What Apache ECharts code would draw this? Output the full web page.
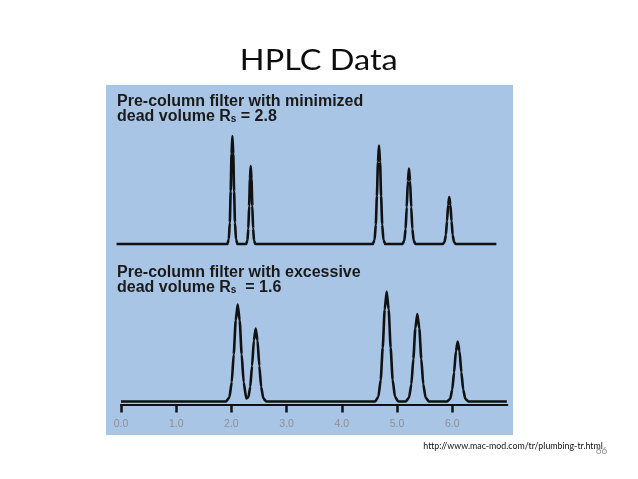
<!DOCTYPE html>
<html>
<head>
<meta charset="utf-8">
<script src="https://cdn.jsdelivr.net/npm/echarts@6/dist/echarts.min.js"></script>
<style>
html,body{margin:0;padding:0;background:#fff;}
#c{width:638px;height:479px;}
</style>
</head>
<body>
<div id="c"></div>
<script>
// Upper chromatogram: minimized dead volume (retention time, signal)
const upperTime = [-0.08,
  1.927, 1.953, 1.971, 1.987, 2.002, 2.018, 2.034, 2.049, 2.065, 2.083, 2.109,
  2.266, 2.290, 2.307, 2.321, 2.336, 2.350, 2.364, 2.379, 2.393, 2.410, 2.434,
  4.562, 4.594, 4.616, 4.636, 4.655, 4.674, 4.693, 4.712, 4.732, 4.754, 4.786,
  5.098, 5.132, 5.156, 5.176, 5.197, 5.217, 5.237, 5.258, 5.278, 5.302, 5.336,
  5.828, 5.862, 5.886, 5.906, 5.927, 5.947, 5.967, 5.988, 6.008, 6.032, 6.066,
  6.80];
const upperSignal = [0,
  0, 0.048, 0.214, 0.526, 0.902, 1.08, 0.902, 0.526, 0.214, 0.048, 0,
  0, 0.034, 0.154, 0.380, 0.651, 0.78, 0.651, 0.380, 0.154, 0.034, 0,
  0, 0.043, 0.195, 0.480, 0.822, 0.985, 0.822, 0.480, 0.195, 0.043, 0,
  0, 0.033, 0.149, 0.368, 0.630, 0.755, 0.630, 0.368, 0.149, 0.033, 0,
  0, 0.021, 0.093, 0.229, 0.392, 0.47, 0.392, 0.229, 0.093, 0.021, 0,
  0];

// Lower chromatogram: excessive dead volume
const lowerTime = [0,
  1.904, 1.964, 2.006, 2.042, 2.078, 2.114, 2.150, 2.186, 2.222, 2.270, 2.308,
  2.341, 2.374, 2.407, 2.440, 2.473, 2.506, 2.539, 2.578, 2.633,
  4.603, 4.663, 4.705, 4.741, 4.777, 4.813, 4.849, 4.885, 4.921, 4.963, 5.023,
  5.158, 5.218, 5.260, 5.296, 5.332, 5.368, 5.404, 5.440, 5.476, 5.518, 5.578,
  5.908, 5.963, 6.001, 6.034, 6.067, 6.100, 6.133, 6.166, 6.199, 6.238, 6.293,
  6.99];
const lowerSignal = [0,
  0, 0.043, 0.192, 0.472, 0.810, 0.97, 0.810, 0.472, 0.192, 0.03, 0.045,
  0.145, 0.356, 0.610, 0.73, 0.610, 0.356, 0.145, 0.032, 0,
  0, 0.048, 0.218, 0.536, 0.919, 1.10, 0.919, 0.536, 0.218, 0.048, 0,
  0, 0.039, 0.173, 0.426, 0.731, 0.875, 0.731, 0.426, 0.173, 0.039, 0,
  0, 0.026, 0.119, 0.292, 0.501, 0.60, 0.501, 0.292, 0.119, 0.026, 0,
  0];

const tickValues = [0, 1, 2, 3, 4, 5, 6];
const tickLabels = ['0.0', '1.0', '2.0', '3.0', '4.0', '5.0', '6.0'];

const titleText = 'HPLC Data';
const upperCaption = ['Pre-column filter with minimized', 'dead volume R', 's', ' = 2.8'];
const lowerCaption = ['Pre-column filter with excessive', 'dead volume R', 's', '  = 1.6'];
const sourceText = 'http://www.mac-mod.com/tr/plumbing-tr.html';
const pageNumber = '66';

const pairs = (xs, ys) => xs.map((x, i) => [x, ys[i]]);

const chart = echarts.init(document.getElementById('c'), null, {renderer: 'canvas'});

const captionRich = {
  a: {fontSize: 16, fontWeight: 'bold', fontFamily: '"Liberation Sans", Arial, sans-serif', fill: '#1a1a1a', lineHeight: 14.5, verticalAlign: 'bottom'},
  s: {fontSize: 10, fontWeight: 'bold', fontFamily: '"Liberation Sans", Arial, sans-serif', fill: '#1a1a1a', lineHeight: 9, verticalAlign: 'bottom'}
};
const captionText = c => '{a|' + c[0] + '}\n{a|' + c[1] + '}{s|' + c[2] + '}{a|' + c[3] + '}';

const lineStyle = {color: '#111', width: 2.6};

chart.setOption({
  animation: false,
  backgroundColor: '#ffffff',
  graphic: [
    {type: 'rect', z: -10, shape: {x: 106, y: 85, width: 407, height: 350}, style: {fill: '#a8c5e6'}},
    {type: 'text', x: 318.8, y: 60.5, scaleX: 1.12, style: {text: titleText, x: 0, y: 0, fill: '#0d0d0d',
      font: '29px Lato, "Open Sans", sans-serif', align: 'center', verticalAlign: 'middle', textAlign: 'center', textVerticalAlign: 'middle'}},
    {type: 'text', x: 117, y: 95.5, style: {text: captionText(upperCaption), rich: captionRich, x: 0, y: 0,
      align: 'left', verticalAlign: 'top', textAlign: 'left', textVerticalAlign: 'top'}},
    {type: 'text', x: 117, y: 266.5, style: {text: captionText(lowerCaption), rich: captionRich, x: 0, y: 0,
      align: 'left', verticalAlign: 'top', textAlign: 'left', textVerticalAlign: 'top'}},
    {type: 'text', x: 423.3, y: 445.7, scaleX: 0.98, style: {text: sourceText, x: 0, y: 0, fill: '#111',
      font: '9px Lato, "Open Sans", sans-serif', align: 'left', verticalAlign: 'middle', textAlign: 'left', textVerticalAlign: 'middle'}},
    {type: 'text', x: 601.5, y: 451, scaleX: 1.05, style: {text: pageNumber, x: 0, y: 0, fill: '#8c8c8c',
      font: '9.5px Lato, "Open Sans", sans-serif', align: 'center', verticalAlign: 'middle', textAlign: 'center', textVerticalAlign: 'middle'}}
  ],
  grid: [
    {left: 115.48, width: 386.4, top: 124, height: 130},
    {left: 121, width: 386.4, top: 281.5, height: 123}
  ],
  xAxis: [
    {gridIndex: 0, type: 'value', min: -0.1, max: 6.9, show: false},
    {gridIndex: 1, type: 'value', min: 0, max: 7, interval: 1,
      axisLine: {show: true, onZero: false, lineStyle: {color: '#111', width: 2}},
      axisTick: {show: true, length: 8, customValues: tickValues, lineStyle: {color: '#111', width: 2.5}},
      axisLabel: {show: true, margin: 14, customValues: tickValues, color: '#909090', fontSize: 10.5,
        fontFamily: '"Liberation Sans", Arial, sans-serif',
        formatter: v => tickLabels[tickValues.indexOf(Math.round(v))] || ''},
      splitLine: {show: false}}
  ],
  yAxis: [
    {gridIndex: 0, type: 'value', min: -0.1, max: 1.2, show: false},
    {gridIndex: 1, type: 'value', min: -0.03, max: 1.2, show: false}
  ],
  series: [
    {type: 'line', xAxisIndex: 0, yAxisIndex: 0, data: pairs(upperTime, upperSignal), showSymbol: false,
      smooth: 0.2, smoothMonotone: 'x', clip: false, lineStyle: lineStyle},
    {type: 'line', xAxisIndex: 1, yAxisIndex: 1, data: pairs(lowerTime, lowerSignal), showSymbol: false,
      smooth: 0.2, smoothMonotone: 'x', clip: false, lineStyle: lineStyle}
  ]
});
</script>
</body>
</html>
